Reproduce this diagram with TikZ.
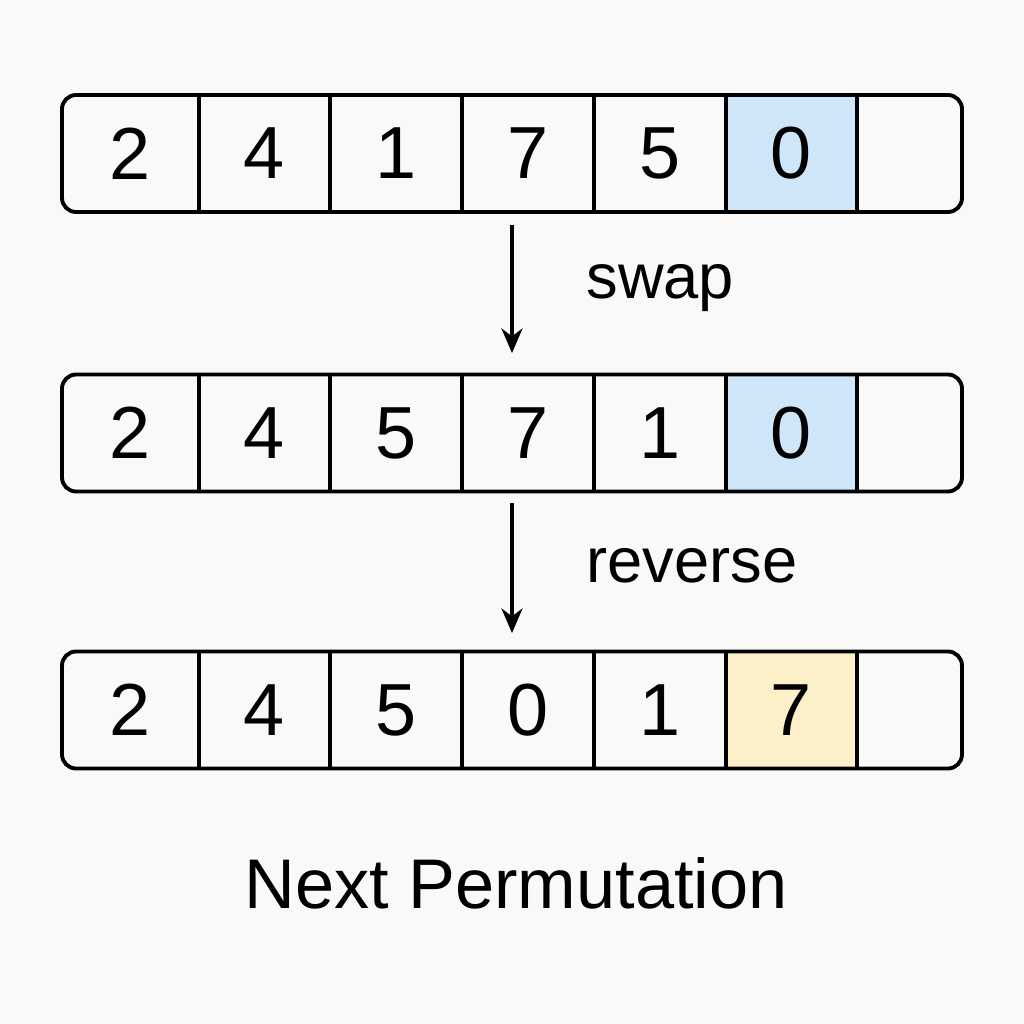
\documentclass[tikz,border=0pt]{standalone}
\usepackage{fontspec}
\setmainfont{Liberation Sans}
\usetikzlibrary{arrows.meta,positioning,calc}
\definecolor{bg}{HTML}{F9F9F9}
\definecolor{cellblue}{HTML}{CFE6F8}
\definecolor{cellyel}{HTML}{FCF0C8}
\tikzset{
    cell/.style={draw=none, inner sep=0pt, font=\fontsize{21}{21}\selectfont},
    rowbox/.style={draw, line width=1.1pt, rounded corners=4pt},
    step arrow/.style={-{Stealth[length=7pt,width=6pt]}, line width=1pt},
    steplabel/.style={font=\fontsize{18}{18}\selectfont, anchor=west}
}
\begin{document}
\begin{tikzpicture}
    \fill[bg] (0,0) rectangle (10.24,-10.24);
    \useasboundingbox (0,0) rectangle (10.24,-10.24);
    \def \H {0.585}
    % highlighted cells first
    \fill[cellblue] (7.26,-1.535-\H) rectangle (8.57,-1.535+\H);
    \fill[cellblue] (7.26,-4.33-\H) rectangle (8.57,-4.33+\H);
    \fill[cellyel] (7.26,-7.10-\H) rectangle (8.57,-7.10+\H);
    % rows: index/y-centre/values
    \foreach \r/\y/\vals in {1/-1.535/{2,4,1,7,5,0,},2/-4.33/{2,4,5,7,1,0,},3/-7.10/{2,4,5,0,1,7,}}{
        \foreach \xa/\xb [count=\i] in {0.62/1.99,1.99/3.30,3.30/4.62,4.62/5.94,5.94/7.26,7.26/8.57,8.57/9.62}{
            \coordinate (l\r\i) at (\xa,\y-\H);
            \coordinate (u\r\i) at (\xb,\y+\H);
        }
        \draw[rowbox] (l\r1) rectangle (u\r7);
        \foreach \i in {2,...,7}{
            \draw[line width=1.1pt] (l\r\i) -- (l\r\i |- u\r\i);
        }
        \foreach \v [count=\i] in \vals {
            \node[cell] (c\r\i) at ($(l\r\i)!0.5!(u\r\i)$) {\v};
        }
    }
    \coordinate (a1) at (5.12,-2.25);
    \coordinate (b1) at (5.12,-3.53);
    \coordinate (a2) at (5.12,-5.03);
    \coordinate (b2) at (5.12,-6.33);
    \draw[step arrow] (a1) -- (b1);
    \draw[step arrow] (a2) -- (b2);
    \node[steplabel] (swap) at (5.74,-2.88) {swap};
    \node[steplabel] (rev) at (5.74,-5.66) {reverse};
    \node[font=\fontsize{20}{20}\selectfont] (title) at (5.16,-8.83) {Next Permutation};
\end{tikzpicture}
\end{document}
